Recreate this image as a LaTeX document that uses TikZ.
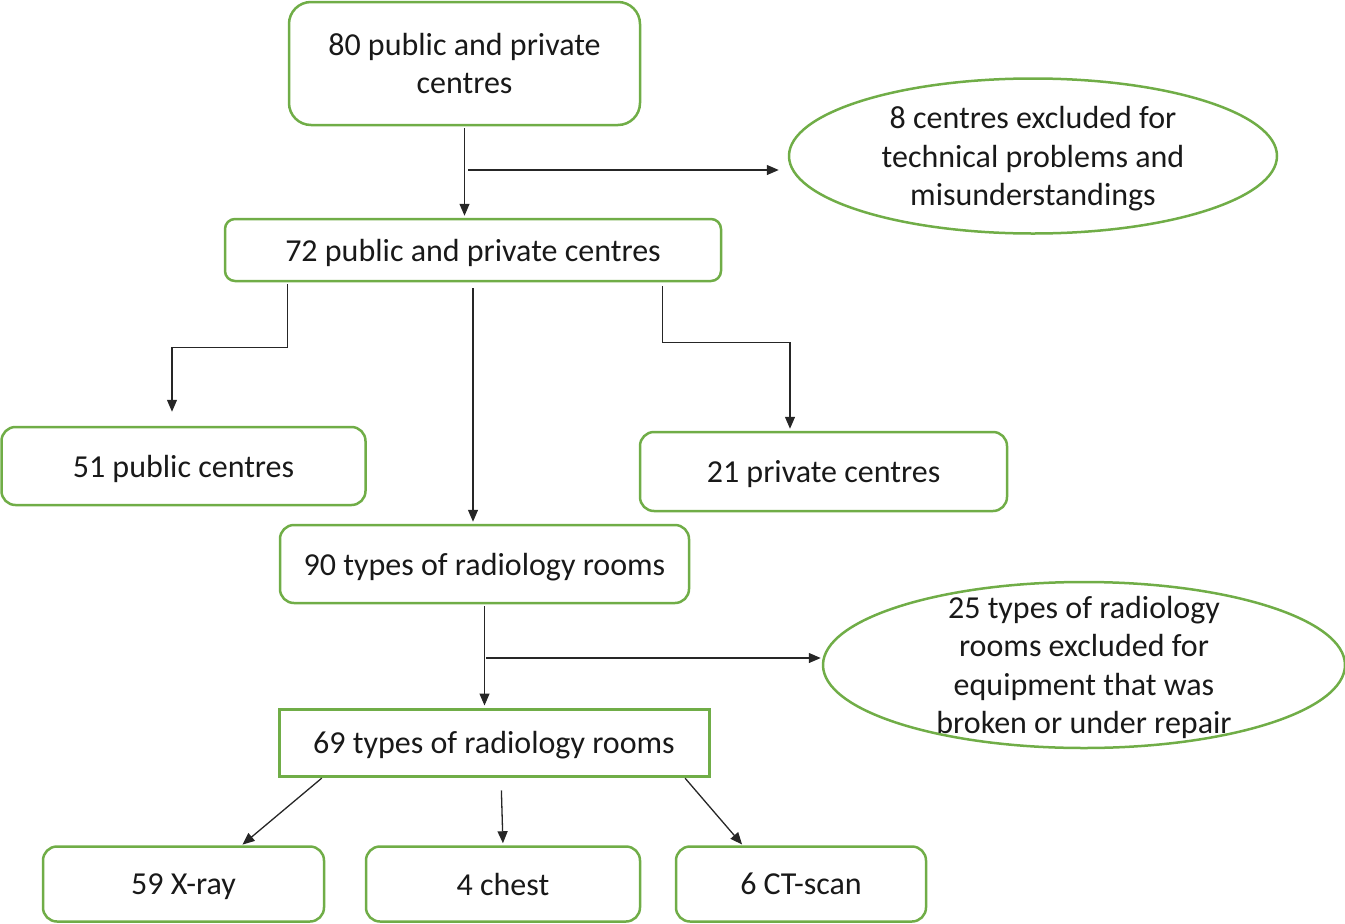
\documentclass[tikz,border=0pt]{standalone}
\usepackage{fontspec}
\setmainfont{Carlito}
\usepackage{tikz}
\usetikzlibrary{arrows.meta,shapes.geometric}
\definecolor{boxgreen}{HTML}{70AD47}

\begin{document}
\begin{tikzpicture}[x=1pt,y=-1pt,txt/.style={font=\fontsize{32}{38.5}\selectfont,text=black!90,align=center,text depth=0pt},box/.style n args={3}{draw=boxgreen,line width=2.5pt,rounded corners=#1,minimum width=#2pt,minimum height=#3pt,inner sep=0pt,txt},oval/.style n args={3}{ellipse,draw=boxgreen,line width=2.5pt,minimum width=#1pt,minimum height=#2pt,inner xsep=0pt,inner ysep=#3,txt},arr/.style={draw=black!85,line width=1.3pt,-{Triangle[length=12pt,width=10pt]}}]
\useasboundingbox (0,0) rectangle (1345,924);
\node[box={22pt}{351}{123}] (c80) at (464.5,63.5) {80 public and private\\centres};
\node[oval={488}{155}{-12pt}] (ex8) at (1033,156) {8 centres excluded for\\technical problems and\\misunderstandings};
\node[box={10pt}{496}{62}] (c72) at (473,250) {72 public and private centres};
\node[box={14pt}{364}{78}] (c51) at (183.5,466) {51 public centres};
\node[box={14pt}{367}{79}] (c21) at (823.5,471.5) {21 private centres};
\node[box={14pt}{409}{78}] (c90) at (484.5,564) {90 types of radiology rooms};
\node[oval={522}{166}{-20pt}] (ex25) at (1084,665) {25 types of radiology\\rooms excluded for\\equipment that was\\broken or under repair};
\node[box={0pt}{430}{67},line width=3pt] (c69) at (494,742.5) {69 types of radiology rooms};
\foreach \x/\w/\n/\t in %
{183.5/281/c59/59 X-ray,503/274/c4/4 chest,801/250/cct/6 CT-scan} {
   \node[box={14pt}{\w}{75}] (\n) at (\x,884) {\t};
}
\coordinate (j80) at (468,170);
\coordinate (j90) at (486,658);
\draw[arr,shorten <=2pt,shorten >=2pt] (c80.south) -- (c80.south |- c72.north);
\draw[arr,shorten >=9pt] (j80) -- (j80 -| ex8.west);
\draw[arr,shorten <=2pt,shorten >=14pt] ([xshift=64pt]c72.south west) -- ++(0,65) -| ([xshift=-11.5pt]c51.north);
\draw[arr,shorten <=6pt,shorten >=2pt] (c72.south) -- (c72.south |- c90.north);
\draw[arr,shorten <=4pt,shorten >=2pt] ([xshift=-60pt]c72.south east) -- ++(0,60) -| ([xshift=-33.5pt]c21.north);
\draw[arr,shorten <=2pt,shorten >=2pt] (c90.south) -- (c90.south |- c69.north);
\draw[arr,shorten >=1pt] (j90) -- (j90 -| ex25.west);
\draw[arr,shorten <=1pt,shorten >=1pt] ([xshift=45pt]c69.south west) -- ([xshift=200pt]c59.north west);
\draw[arr,shorten <=13pt,shorten >=2pt] ([xshift=7pt]c69.south) -- (c4.north);
\draw[arr,shorten <=1pt,shorten >=1pt] ([xshift=-26pt]c69.south east) -- ([xshift=68pt]cct.north west);
\end{tikzpicture}
\end{document}
